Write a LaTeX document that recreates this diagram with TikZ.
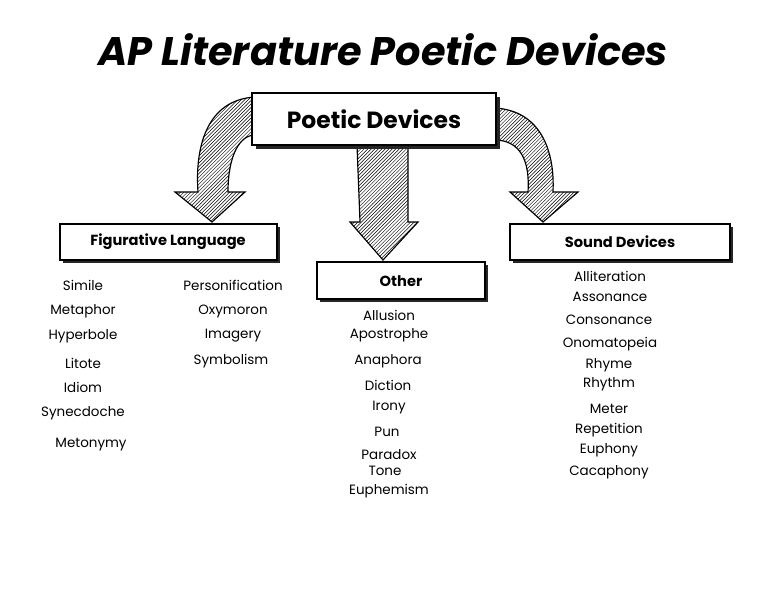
\documentclass[tikz,border=0pt]{standalone}
\usepackage{fontspec}
\setmainfont{Poppins}
\usetikzlibrary{patterns}
\begin{document}
\begin{tikzpicture}[x=0.03cm,y=-0.03cm,
  hbox/.style={draw,line width=1.3pt,fill=white,inner sep=0pt},
  shadow/.style={fill=black!85},
  harrow/.style={draw,line width=1pt,pattern=north east lines},
  item/.style={font=\fontsize{11.5}{12}\selectfont,inner sep=0pt}]
\useasboundingbox (0,0) rectangle (768,594);
% title
\node (title) at (383,50) {\fontsize{34}{36}\selectfont\bfseries\itshape AP Literature Poetic Devices};
% arrows
\draw[harrow] (255,97) .. controls (205,100) and (195,150) .. (198,192) -- (175,192) -- (212,222) -- (245,192) -- (228,192) .. controls (228,155) and (240,135) .. (255,135) -- cycle;
\draw[harrow] (494,108) .. controls (540,110) and (555,150) .. (553,192) -- (578,192) -- (543,222) -- (510,192) -- (528,192) .. controls (530,160) and (520,140) .. (494,140) -- cycle;
\draw[harrow] (357,145) -- (408,145) -- (408,222) -- (418,222) -- (383,260) -- (350,222) -- (360,222) -- cycle;
% boxes
\fill[shadow] (256,97) rectangle (500,149);
\draw[hbox] (252,93) rectangle (496,145);
\node (main) at (374,119) {\fontsize{20}{22}\selectfont\bfseries Poetic Devices};
\fill[shadow] (63,227) rectangle (280,263);
\draw[hbox] (60,224) rectangle (277,260);
\node (fig) at (168,242) {\fontsize{12.5}{14}\selectfont\bfseries Figurative Language};
\fill[shadow] (320,265) rectangle (488,302);
\draw[hbox] (317,262) rectangle (485,299);
\node (oth) at (401,281) {\fontsize{12.5}{14}\selectfont\bfseries Other};
\fill[shadow] (513,227) rectangle (733,263);
\draw[hbox] (510,224) rectangle (730,260);
\node (snd) at (620,242) {\fontsize{12.5}{14}\selectfont\bfseries Sound Devices};
% lists
\node[item] (a1) at (83,285) {Simile};
\node[item] (a2) at (83,311) {Metaphor};
\node[item] (a3) at (83,336) {Hyperbole};
\node[item] (a4) at (83,363) {Litote};
\node[item] (a5) at (83,387) {Idiom};
\node[item] (a6) at (83,413) {Synecdoche};
\node[item] (a7) at (91,445) {Metonymy};
\node[item] (b1) at (233,285) {Personification};
\node[item] (b2) at (233,311) {Oxymoron};
\node[item] (b3) at (233,336) {Imagery};
\node[item] (b4) at (231,361) {Symbolism};
\node[item] (c1) at (389,315) {Allusion};
\node[item] (c2) at (389,335) {Apostrophe};
\node[item] (c3) at (388,361) {Anaphora};
\node[item] (c4) at (388,385) {Diction};
\node[item] (c5) at (389,408) {Irony};
\node[item] (c6) at (387,432) {Pun};
\node[item] (c7) at (389,455) {Paradox};
\node[item] (c8) at (385,471) {Tone};
\node[item] (c9) at (389,491) {Euphemism};
\node[item] (d1) at (610,276) {Alliteration};
\node[item] (d2) at (610,297) {Assonance};
\node[item] (d3) at (609,320) {Consonance};
\node[item] (d4) at (610,344) {Onomatopeia};
\node[item] (d5) at (609,365) {Rhyme};
\node[item] (d6) at (609,384) {Rhythm};
\node[item] (d7) at (609,409) {Meter};
\node[item] (d8) at (609,430) {Repetition};
\node[item] (d9) at (609,450) {Euphony};
\node[item] (d10) at (609,472) {Cacaphony};
\end{tikzpicture}
\end{document}
